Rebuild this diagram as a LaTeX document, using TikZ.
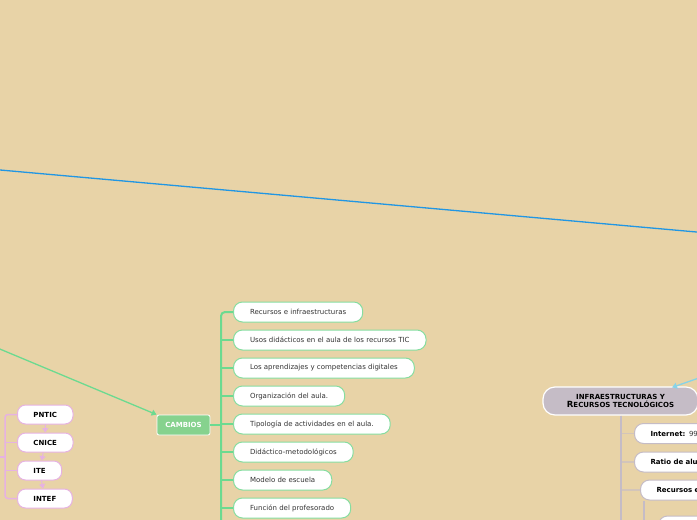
\documentclass[tikz,border=0pt]{standalone}
\usepackage{fontspec}
\setmainfont{DejaVu Sans}
\usetikzlibrary{arrows.meta}
\definecolor{bg}{HTML}{E8D3A7}
\definecolor{blu}{HTML}{2196E3}
\definecolor{grn}{HTML}{6CDA90}
\definecolor{grnbox}{HTML}{86DDA0}
\definecolor{grnfill}{HTML}{86D28E}
\definecolor{pnk}{HTML}{E6B2E2}
\definecolor{gry}{HTML}{C5BCC6}
\definecolor{cyn}{HTML}{86D3E8}
\definecolor{txt}{HTML}{333333}
\begin{document}
\begin{tikzpicture}[x=1pt,y=-1pt,
  gbox/.style={draw=grnbox, line width=1pt, fill=white, rounded corners=9pt, minimum height=20pt,
    inner xsep=16.5pt, inner ysep=0pt, anchor=west, font=\fontsize{7}{8}\selectfont, text=txt},
  pbox/.style={draw=pnk, line width=1pt, fill=white, rounded corners=8pt, minimum height=19pt,
    inner xsep=16pt, inner ysep=0pt, anchor=west, font=\bfseries\fontsize{7}{8}\selectfont, text=black},
  rbox/.style={draw=gry, line width=1pt, fill=white, rounded corners=9pt, minimum height=20pt,
    text width=84pt, inner xsep=16pt, inner ysep=0pt, anchor=west, align=left,
    font=\fontsize{7}{8}\selectfont, text=black},
  gline/.style={draw=grn, line width=2pt},
  pline/.style={draw=pnk, line width=1.5pt},
  rline/.style={draw=gry, line width=2pt},
  rstub/.style={draw=gry!60!bg, line width=1.5pt},
]
\useasboundingbox (0,0) rectangle (697,520);
\clip (0,0) rectangle (697,520);
\fill[bg] (-5,-5) rectangle (702,525);

% long blue line
\coordinate (b1) at (-10,169.1);
\coordinate (b2) at (710,233.2);
\draw[blu, line width=1.3pt] (b1) -- (b2);

% CAMBIOS
\node[draw=white, line width=0.8pt, fill=grnfill, rounded corners=2pt, minimum width=53pt,
  minimum height=20pt, inner sep=0pt, font=\bfseries\fontsize{7}{8}\selectfont, text=white]
  (cambios) at (183.5,425) {CAMBIOS};
\coordinate (gin) at (-10,344.9);
\draw[grn, line width=1.3pt, -{Triangle[width=6pt,length=5pt]}] (gin) -- (cambios.north west);

\node[gbox] (c1) at (233,312) {Recursos e infraestructuras};
\node[gbox] (c2) at (233,340) {Usos didácticos en el aula de los recursos TIC};
\node[gbox] (c3) at (233,368) {Los aprendizajes y competencias digitales};
\node[gbox] (c4) at (233,396) {Organización del aula.};
\node[gbox] (c5) at (233,424) {Tipología de actividades en el aula.};
\node[gbox] (c6) at (233,452) {Didáctico-metodológicos};
\node[gbox] (c7) at (233,480) {Modelo de escuela};
\node[gbox] (c8) at (233,508) {Función del profesorado};
\coordinate (gt) at (221,312);
\coordinate (gbot) at (221,540);
\draw[gline, rounded corners=4pt] (c1.west) -- (gt) -- (gbot);
\draw[gline] (cambios.east) -- (cambios.east -| gt);
\foreach \n in {c2,c3,c4,c5,c6,c7,c8}{\draw[gline] (\n.west) -- (\n.west -| gt);}

% pink group
\node[pbox] (p1) at (17,414.5) {PNTIC};
\node[pbox] (p2) at (17,442.5) {CNICE};
\node[pbox] (p3) at (17,470.5) {ITE};
\node[pbox] (p4) at (17,498.5) {INTEF};
\coordinate (pb) at (5,457);
\coordinate (pin) at (-5,457);
\draw[pline] (pin) -- (pb);
\draw[pline, rounded corners=3pt] (p1.west) -- (p1.west -| pb) -- (p4.west -| pb) -- (p4.west);
\foreach \n in {p2,p3}{\draw[pline] (\n.west) -- (\n.west -| pb);}
\foreach \a/\b in {p1/p2,p2/p3,p3/p4}{\draw[pnk, line width=1pt, -{Triangle[width=6pt,length=4.5pt]}] (\a) -- (\b);}

% infraestructuras
\node[draw=white, line width=1.2pt, fill=gry, rounded corners=12pt, minimum width=155pt,
  minimum height=28pt, inner sep=0pt, align=center, font=\bfseries\fontsize{7}{8.5}\selectfont, text=black]
  (infra) at (620.5,401) {INFRAESTRUCTURAS Y\\{\fontsize{8.5}{8.5}\selectfont R}ECURSOS TECNOLÓGICOS};
\coordinate (cy) at (720,370.6);
\draw[cyn, line width=1.3pt, -{Triangle[width=6pt,length=5pt]}] (cy) -- ([xshift=51.5pt,yshift=-1pt]infra.north);

\coordinate (rbot) at (621,540);
\node[rbox] (r1) at (634,433.5) {\textbf{Internet:} {\color{txt}\mdseries 99}};
\node[rbox] (r2) at (634,462) {\textbf{Ratio de alu}};
\node[rbox] (r3) at (640,490) {\textbf{Recursos e}};
\node[rbox] (r4) at (658,526) {};
\foreach \n in {r1,r2,r3}{\draw[rstub] (\n.west) -- (\n.west -| rbot);}
\draw[rline] (infra.south -| rbot) -- (rbot);
\coordinate (st) at ([xshift=4pt]r3.south west);
\coordinate (sbot) at (644,540);
\draw[rline] (st) -- (sbot);
\draw[rstub] (r4.west) -- (r4.west -| st);
\end{tikzpicture}
\end{document}
